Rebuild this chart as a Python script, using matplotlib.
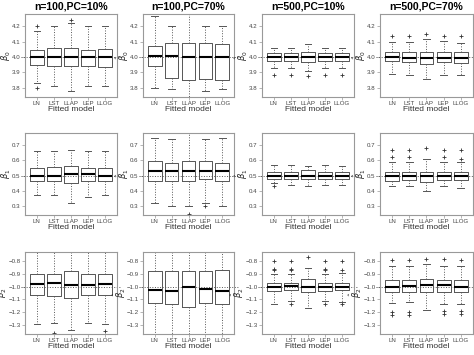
import matplotlib
matplotlib.use('Agg')
import matplotlib.pyplot as plt

plt.rcParams['font.family'] = ['Liberation Sans', 'DejaVu Sans']
plt.rcParams['mathtext.fontset'] = 'dejavusans'

# models on x axis
models = ['LN', 'LST', 'LLAP', 'LEP', 'LLOG']
titles = ['n=100,PC=10%', 'n=100,PC=70%', 'n=500,PC=10%', 'n=500,PC=70%']
params = [r'$\hat{\beta}_0$', r'$\hat{\beta}_1$', r'$\hat{\beta}_2$']
true_vals = [4.0, 0.5, -1.0]
ylims = [(3.74, 4.28), (0.24, 0.78), (-1.37, -0.73)]
yticks = [[3.8, 3.9, 4.0, 4.1, 4.2],
          [0.3, 0.4, 0.5, 0.6, 0.7],
          [-1.3, -1.2, -1.1, -1.0, -0.9, -0.8]]

# box stats: (whislo, q1, med, q3, whishi, fliers)
# row 0: beta0
b0_n100_pc10 = [(3.83, 3.946, 4.0, 4.043, 4.17, [4.2, 3.8]),
                (3.813, 3.942, 4.0, 4.056, 4.2, []),
                (3.776, 3.94, 4.0, 4.057, 4.22, [4.24]),
                (3.813, 3.942, 4.0, 4.045, 4.2, []),
                (3.813, 3.933, 4.0, 4.05, 4.2, [])]
b0_n100_pc70 = [(3.80, 3.941, 4.004, 4.072, 4.27, []),
                (3.79, 3.863, 4.004, 4.091, 4.2, []),
                (3.74, 3.85, 4.0, 4.091, 4.30, []),
                (3.78, 3.857, 4.0, 4.091, 4.2, []),
                (3.79, 3.852, 4.0, 4.087, 4.2, [])]
b0_n500_pc10 = [(3.928, 3.972, 4.0, 4.026, 4.058, [3.885]),
                (3.928, 3.972, 4.0, 4.026, 4.058, [3.885]),
                (3.91, 3.967, 4.0, 4.035, 4.084, [3.878]),
                (3.928, 3.972, 4.0, 4.026, 4.058, [3.885]),
                (3.928, 3.972, 4.0, 4.026, 4.058, [3.885])]
b0_n500_pc70 = [(3.89, 3.972, 3.998, 4.032, 4.10, [4.14]),
                (3.885, 3.966, 3.993, 4.032, 4.10, [4.14]),
                (3.86, 3.955, 3.993, 4.032, 4.12, [4.15]),
                (3.885, 3.966, 3.993, 4.032, 4.107, [4.14]),
                (3.885, 3.962, 3.993, 4.032, 4.09, [4.14])]
# row 1: beta1
b1_n100_pc10 = [(0.372, 0.461, 0.5, 0.552, 0.66, []),
                (0.372, 0.465, 0.5, 0.559, 0.66, []),
                (0.32, 0.45, 0.509, 0.563, 0.67, []),
                (0.36, 0.465, 0.509, 0.552, 0.66, []),
                (0.372, 0.465, 0.5, 0.552, 0.66, [])]
b1_n100_pc70 = [(0.32, 0.467, 0.53, 0.593, 0.75, []),
                (0.30, 0.467, 0.53, 0.585, 0.74, []),
                (0.30, 0.467, 0.53, 0.596, 0.78, [0.245]),
                (0.32, 0.476, 0.53, 0.593, 0.74, [0.30]),
                (0.30, 0.467, 0.53, 0.585, 0.75, [])]
b1_n500_pc10 = [(0.45, 0.478, 0.5, 0.526, 0.57, [0.43]),
                (0.44, 0.478, 0.5, 0.526, 0.57, []),
                (0.43, 0.478, 0.494, 0.537, 0.56, []),
                (0.44, 0.478, 0.5, 0.526, 0.57, []),
                (0.44, 0.478, 0.5, 0.526, 0.56, [])]
b1_n500_pc70 = [(0.433, 0.467, 0.5, 0.526, 0.59, [0.67, 0.62]),
                (0.433, 0.472, 0.498, 0.52, 0.59, [0.67, 0.62]),
                (0.40, 0.46, 0.498, 0.52, 0.61, [0.68]),
                (0.433, 0.472, 0.498, 0.522, 0.59, [0.67, 0.62]),
                (0.42, 0.472, 0.498, 0.522, 0.59, [0.67, 0.61])]
# row 2: beta2
b2_n100_pc10 = [(-1.29, -1.062, -0.979, -0.90, -0.70, []),
                (-1.285, -1.07, -0.974, -0.904, -0.70, [-1.36]),
                (-1.335, -1.088, -0.984, -0.88, -0.70, []),
                (-1.285, -1.068, -0.984, -0.904, -0.70, []),
                (-1.29, -1.068, -0.979, -0.90, -0.70, [-1.35])]
b2_n100_pc70 = [(-1.40, -1.125, -1.029, -0.878, -0.70, []),
                (-1.40, -1.138, -1.034, -0.878, -0.70, []),
                (-1.40, -1.158, -1.003, -0.878, -0.70, []),
                (-1.40, -1.13, -1.018, -0.878, -0.70, []),
                (-1.40, -1.138, -1.034, -0.874, -0.70, [])]
b2_n500_pc10 = [(-1.135, -1.034, -1.0, -0.969, -0.90, [-0.80, -0.86, -0.87]),
                (-1.11, -1.029, -0.995, -0.969, -0.90, [-0.80, -0.86, -0.87, -1.135]),
                (-1.17, -1.039, -1.0, -0.938, -0.852, [-0.77]),
                (-1.11, -1.034, -1.0, -0.969, -0.90, [-0.80, -0.86, -0.87, -1.135]),
                (-1.12, -1.029, -1.0, -0.969, -0.895, [-0.80, -0.87, -1.135])]
b2_n500_pc70 = [(-1.13, -1.039, -1.0, -0.951, -0.84, [-0.79, -1.195, -1.22]),
                (-1.122, -1.039, -0.995, -0.951, -0.84, [-0.79, -1.195, -1.22]),
                (-1.18, -1.044, -0.99, -0.938, -0.826, [-0.785]),
                (-1.135, -1.039, -0.99, -0.951, -0.84, [-0.785, -1.19, -1.21]),
                (-1.135, -1.039, -1.0, -0.951, -0.84, [-0.79, -1.19, -1.21])]

data = [[b0_n100_pc10, b0_n100_pc70, b0_n500_pc10, b0_n500_pc70],
        [b1_n100_pc10, b1_n100_pc70, b1_n500_pc10, b1_n500_pc70],
        [b2_n100_pc10, b2_n100_pc70, b2_n500_pc10, b2_n500_pc70]]

W, H = 474, 355
fig = plt.figure(figsize=(W / 100, H / 100), dpi=100)

# panel edges in pixels
col_lr = [(25, 117), (143, 234), (262, 354), (380, 473)]
row_tb = [(14, 97), (133, 215), (252, 334)]
# ylabel offset per row (row 2 has wider tick labels)
ylab_x = [-0.13, -0.13, -0.17]

grey = '#555555'
for r in range(3):
    for c in range(4):
        l, rr = col_lr[c]
        t, b = row_tb[r]
        ax = fig.add_axes([l / W, 1 - b / H, (rr - l) / W, (b - t) / H])
        stats = []
        for name, s in zip(models, data[r][c]):
            stats.append(dict(label=name, whislo=s[0], q1=s[1], med=s[2],
                              q3=s[3], whishi=s[4], fliers=s[5]))
        ax.bxp(stats, widths=0.8, showfliers=True,
               boxprops=dict(color=grey, linewidth=0.7),
               whiskerprops=dict(color=grey, linewidth=0.7, linestyle=':'),
               capprops=dict(color=grey, linewidth=0.7),
               medianprops=dict(color='black', linewidth=1.5),
               flierprops=dict(marker='+', markersize=2.5,
                               markeredgecolor='#333333', markeredgewidth=0.6))
        ax.set_ylim(*ylims[r])
        ax.set_xlim(0.3, 5.7)
        ax.set_yticks(yticks[r])
        ax.set_yticklabels([f'{v:.1f}'.replace('-', '\u2212') for v in yticks[r]])
        ax.plot([-0.04, 1.04], [true_vals[r]] * 2, transform=ax.get_yaxis_transform(),
                color=grey, linestyle=':', linewidth=0.7, clip_on=False)
        for sp in ax.spines.values():
            sp.set_color('#999999')
            sp.set_linewidth(0.8)
        ax.tick_params(axis='both', labelsize=4.4, length=2, width=0.5,
                       colors='#999999', labelcolor='#444444', pad=1.2)
        ax.set_ylabel(params[r], fontsize=6, color='#222222')
        ax.yaxis.set_label_coords(ylab_x[r], 0.5)
        ax.set_xlabel('Fitted model', fontsize=6, labelpad=0, color='#333333')
        if r == 0:
            ax.set_title(titles[c], fontsize=7.5, fontweight='bold', pad=3)

fig.savefig('out.png', dpi=100)
